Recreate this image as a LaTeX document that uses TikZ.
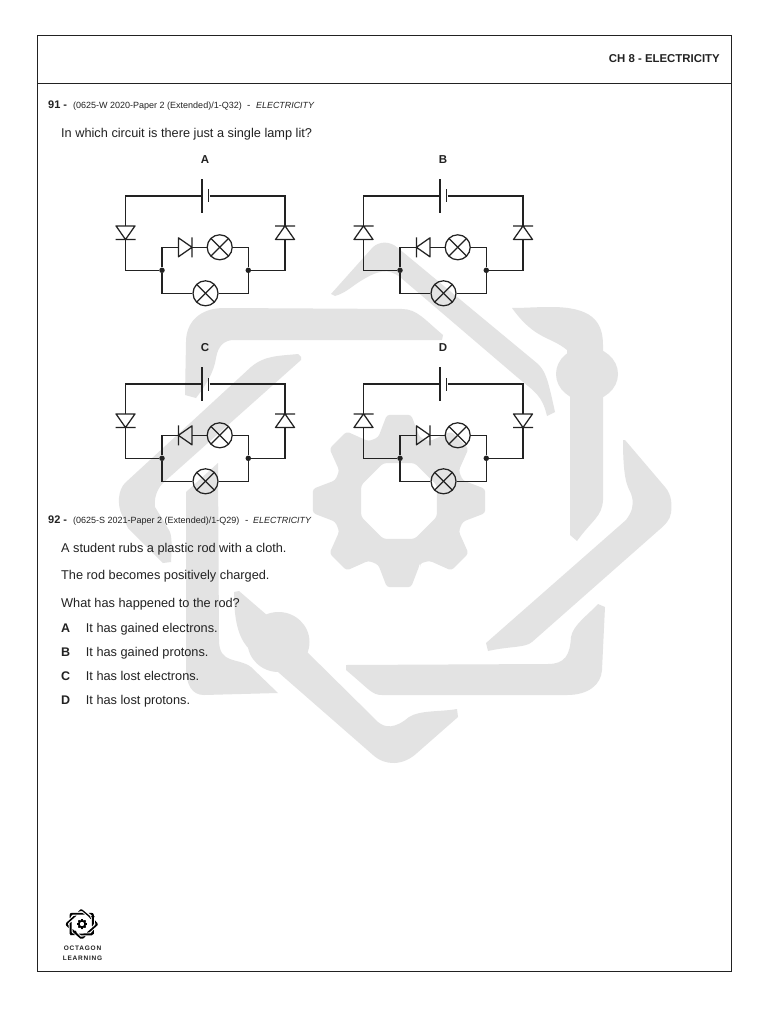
\documentclass[tikz,border=0pt]{standalone}
\usepackage{fontspec}
\setmainfont{Liberation Sans}
\definecolor{inkgray}{HTML}{222222}
\definecolor{markgray}{HTML}{E3E3E3}

\tikzset{
  wire/.style={line width=1.25pt,draw=inkgray},
  txt/.style={anchor=base west,inner sep=0pt,text=inkgray},
  plate/.style={fill=inkgray,inner sep=0pt,minimum width=1.6pt},
  joint/.style={circle,fill=inkgray,inner sep=0pt,minimum size=5.5pt},
  lamp/.style={circle,draw=inkgray,line width=1.25pt,inner sep=0pt,minimum size=25pt,
    path picture={
      \draw[wire] (path picture bounding box.north west)--(path picture bounding box.south east);
      \draw[wire] (path picture bounding box.north east)--(path picture bounding box.south west);
    }},
  vslot/.style={inner sep=0pt,minimum width=20pt,minimum height=13.6pt},
  hslot/.style={inner sep=0pt,minimum width=13.6pt,minimum height=20pt},
  diode/.pic={
    \draw[wire,line join=round] (-6.8,9.5)--(-6.8,-9.5)--(6.8,0)--cycle (6.8,10)--(6.8,-10);
  }
}

% name, letter, shift x, shift y, left diode, inner diode, right diode
\newcommand{\circuit}[7]{
\begin{scope}[shift={(#3,#4)}]
  \node[txt,anchor=center,font=\bfseries\fontsize{11.5}{11.5}\selectfont] (#1label) at (205,160) {#2};
  \node[plate,minimum height=34pt] (#1long) at (202,196) {};
  \node[plate,minimum height=13pt] (#1short) at (208.5,196) {};
  \node[vslot] (#1dl) at (125.5,232.7) {};
  \node[vslot] (#1dr) at (285,232.7) {};
  \node[joint] (#1jl) at (162,270.3) {};
  \node[joint] (#1jr) at (248.3,270.3) {};
  \node[hslot] (#1di) at (185.2,247.3) {};
  \node[lamp] (#1lu) at (219.7,247.3) {};
  \node[lamp] (#1ld) at (205.5,293.3) {};
  \pic[rotate=#5] at (#1dl) {diode};
  \pic[rotate=#7] at (#1dr) {diode};
  \pic[rotate=#6] at (#1di) {diode};

  \draw[wire] (#1long.west) -| (#1dl.north);
  \draw[wire] (#1short.east) -| (#1dr.north);
  \draw[wire] (#1dl.south) |- (#1jl);
  \draw[wire] (#1dr.south) |- (#1jr);
  \draw[wire] (#1jl) |- (#1di.west);
  \draw[wire] (#1di.east) -- (#1lu.west);
  \draw[wire] (#1lu.east) -| (#1jr);
  \draw[wire] (#1jl) |- (#1ld.west);
  \draw[wire] (#1ld.east) -| (#1jr);
\end{scope}
}

% eight bent strips and the gear, in page pixels
\newcommand{\octagonmark}[1]{
  \fill (443,335) .. controls (425,320) and (417,309) .. (402,309) -- (224,308)
    .. controls (200,308) and (186,322) .. (186,342) -- (185,395) -- (196,398)
    .. controls (206,385) and (214,372) .. (216,358)
    .. controls (218,346) and (224,340) .. (234,340) -- (442,340) -- cycle;
  \fill (331,294) -- (373,247) .. controls (380,241) and (390,241) .. (398,248)
    -- (538,364) .. controls (546,372) and (548,380) .. (555,412) -- (547,416)
    .. controls (542,395) and (535,392) .. (517,377) -- (400,277)
    .. controls (388,268) and (378,270) .. (359,282)
    .. controls (350,288) and (345,293) .. (335,296) -- cycle;
  \fill (512,308) .. controls (525,308) and (535,307) .. (551,307)
    .. controls (590,307) and (603,320) .. (603,345) -- (603,500)
    .. controls (602,517) and (592,520) .. (577,541) -- (570,535) -- (570,395)
    -- (567,350) .. controls (550,336) and (535,340) .. cycle;
  \fill (587,374) ellipse [x radius=31,y radius=27];
  \fill (623,440) -- (625,440) -- (665,487) .. controls (672,495) and (672,505) .. (671,513)
    .. controls (670,520) and (665,525) .. (659,530) -- (532,642)
    .. controls (525,648) and (510,646) .. (488,651) -- (486,643) -- (626,520)
    .. controls (632,512) and (634,505) .. (632,497)
    .. controls (630,487) and (623,490) .. cycle;
  \fill (346,665) -- (548,664) .. controls (565,664) and (570,655) .. (571,637)
    .. controls (573,625) and (588,615) .. (598,604) -- (605,607) -- (602,670)
    .. controls (601,685) and (588,695) .. (567,695) -- (382,695)
    .. controls (372,695) and (370,690) .. (346,670) -- cycle;
  \fill (278.5,642) ellipse [x radius=31,y radius=30];
  \fill (234,592) -- (239,591) -- (268,616) -- (250,650)
    .. controls (240,640) and (234,625) .. cycle;
  \fill (300,645) -- (378,722) .. controls (385,728) and (395,729) .. (409,717)
    .. controls (420,710) and (440,712) .. (457,709) -- (458,717) -- (417,753)
    .. controls (403,766) and (385,766) .. (373,755) -- (270,665) -- cycle;
  \fill (218,463) -- (186,492) -- (186,667) .. controls (186,685) and (192,695) .. (204,695)
    -- (278,693) -- (251,667) .. controls (238,657) and (219,665) .. (219,640) -- cycle;
  \fill (301,357) -- (298,354) .. controls (280,356) and (265,355) .. (251,367) -- (125,483)
    .. controls (118,490) and (117,505) .. (122,515) -- (128,528) -- (163,563) -- (171,562)
    .. controls (172,545) and (172,535) .. (169,530) -- (155,507)
    .. controls (154,500) and (156,490) .. (163,483) -- (301,360) -- cycle;
  \begin{scope}[shift={(399,501)}]
    \fill[even odd rule,rounded corners=#1]
      (72:66) \foreach \t in {90,135,...,405} {
        -- ({\t-18}:67) -- ({\t-8}:87) -- ({\t+8}:87) -- ({\t+18}:67)
      } -- cycle
      (22.5:41) -- (67.5:41) -- (112.5:41) -- (157.5:41) -- (202.5:41)
      -- (247.5:41) -- (292.5:41) -- (337.5:41) -- cycle;
  \end{scope}
}

\begin{document}
\begin{tikzpicture}[x=1pt,y=-1pt]

  \path[use as bounding box,fill=white] (0,0) rectangle (768,1024);

  \begin{scope}[fill=markgray]
    \octagonmark{3pt}
  \end{scope}

  \node[draw=inkgray,line width=1pt,inner sep=0pt,anchor=north west,minimum width=694pt,minimum height=936pt] (frame) at (37,35) {};
  \coordinate (ruleleft) at (37,83.5);
  \coordinate (ruleright) at (731,83.5);
  \draw[line width=1pt,draw=inkgray] (ruleleft)--(ruleright);

  \node[txt,anchor=base east,font=\bfseries\fontsize{11.4}{11.4}\selectfont] (chapter) at (720,62.5) {CH 8 - ELECTRICITY};

  \node[txt,font=\bfseries\fontsize{11}{11}\selectfont] (qa) at (48,109) {91 -};
  \node[txt,font=\fontsize{9}{9}\selectfont] (qasource) at (73,109) {(0625-W 2020-Paper 2 (Extended)/1-Q32)};
  \node[txt,font=\fontsize{10}{10}\selectfont] (qadash) at (247,109) {-};
  \node[txt,font=\itshape\fontsize{8.9}{8.9}\selectfont] (qatopic) at (256,109) {ELECTRICITY};
  \node[txt,font=\fontsize{12.75}{12.75}\selectfont] (qatext) at (61,137.5) {In which circuit is there just a single lamp lit?};

  \circuit{a}{A}{0}{0}{-90}{0}{90}
  \circuit{b}{B}{238}{0}{90}{180}{90}
  \circuit{c}{C}{0}{188}{-90}{180}{90}
  \circuit{d}{D}{238}{188}{90}{0}{-90}

  \node[txt,font=\bfseries\fontsize{11}{11}\selectfont] (qb) at (48,523) {92 -};
  \node[txt,font=\fontsize{9}{9}\selectfont] (qbsource) at (73,523) {(0625-S 2021-Paper 2 (Extended)/1-Q29)};
  \node[txt,font=\fontsize{10}{10}\selectfont] (qbdash) at (245,523) {-};
  \node[txt,font=\itshape\fontsize{8.9}{8.9}\selectfont] (qbtopic) at (253,523) {ELECTRICITY};

  \node[txt,font=\fontsize{12.75}{12.75}\selectfont] (line1) at (61,552) {A student rubs a plastic rod with a cloth.};
  \node[txt,font=\fontsize{12.75}{12.75}\selectfont] (line2) at (61,579.5) {The rod becomes positively charged.};
  \node[txt,font=\fontsize{12.75}{12.75}\selectfont] (line3) at (61,607) {What has happened to the rod?};

  \foreach \y/\letter/\answer in {632.5/A/It has gained electrons.,656.5/B/It has gained protons.,680.5/C/It has lost electrons.,704.5/D/It has lost protons.}{
    \node[txt,font=\bfseries\fontsize{12.5}{12.5}\selectfont] (opt\letter) at (61,\y) {\letter};
    \node[txt,font=\fontsize{12.75}{12.75}\selectfont] (ans\letter) at (85.7,\y) {\answer};
  }

  % small logo
  \begin{scope}[fill=black,shift={(82,924)},scale=0.058,shift={(-399,-501)}]
    \octagonmark{0.2pt}
  \end{scope}
  \node[txt,anchor=center,font=\bfseries\fontsize{6.5}{6.5}\selectfont\addfontfeatures{LetterSpace=12}] (logoa) at (82.5,948) {OCTAGON};
  \node[txt,anchor=center,font=\bfseries\fontsize{6.5}{6.5}\selectfont\addfontfeatures{LetterSpace=12}] (logob) at (82.5,958) {LEARNING};

\end{tikzpicture}
\end{document}
